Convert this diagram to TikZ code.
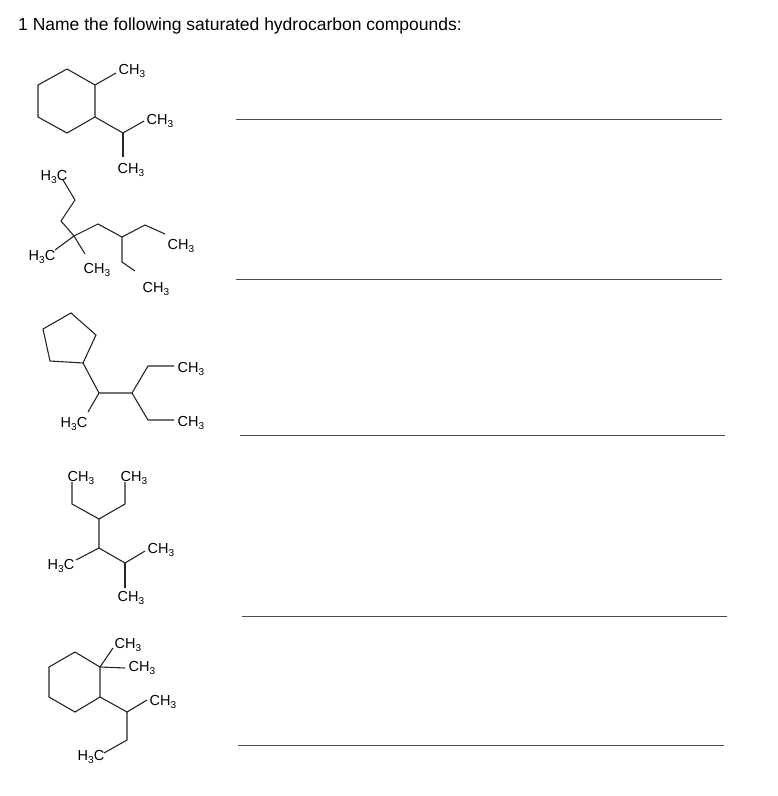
\documentclass[tikz,border=0pt]{standalone}
\usepackage{fontspec}
\setmainfont{Liberation Sans}
\newcommand{\tsub}[1]{\raisebox{-0.35ex}{\fontsize{10}{10}\selectfont #1}}
\newcommand{\CHt}{CH\tsub{3}}
\newcommand{\HtC}{H\tsub{3}C}
\begin{document}
\begin{tikzpicture}[x=1pt,y=-1pt,
  bond/.style={line width=1.1pt,black!85},
  ans/.style={line width=0.8pt,black!70},
  lab/.style={inner sep=0pt,font=\fontsize{14.5}{14.5}\selectfont}]
\useasboundingbox (0,0) rectangle (778,796);
\node[anchor=west,inner sep=0pt,font=\fontsize{17.5}{18}\selectfont] (title) at (18,26) {1 Name the following saturated hydrocarbon compounds:};
% answer lines
\coordinate (l1a) at (236,119); \coordinate (l1b) at (722,119);
\coordinate (l2a) at (236,279); \coordinate (l2b) at (722,279);
\coordinate (l3a) at (240,435); \coordinate (l3b) at (725,435);
\coordinate (l4a) at (242,616); \coordinate (l4b) at (727,616);
\coordinate (l5a) at (238,745); \coordinate (l5b) at (724,745);
\draw[ans] (l1a)--(l1b); \draw[ans] (l2a)--(l2b); \draw[ans] (l3a)--(l3b);
\draw[ans] (l4a)--(l4b); \draw[ans] (l5a)--(l5b);
% molecule 1
\coordinate (a1) at (67,69); \coordinate (a2) at (95,85); \coordinate (a3) at (95,117);
\coordinate (a4) at (67,133); \coordinate (a5) at (38,117); \coordinate (a6) at (38,85);
\draw[bond] (a1)--(a2)--(a3)--(a4)--(a5)--(a6)--cycle;
\coordinate (a7) at (116,73); \coordinate (a8) at (123,133); \coordinate (a9) at (144,121); \coordinate (a10) at (123,157);
\draw[bond] (a2)--(a7); \draw[bond] (a3)--(a8)--(a9); \draw[bond] (a8)--(a10);
\node[lab] (m1a) at (132,71) {\CHt};
\node[lab] (m1b) at (160,121) {\CHt};
\node[lab] (m1c) at (131,170) {\CHt};
% molecule 2
\coordinate (b1) at (63,180); \coordinate (b2) at (75,200); \coordinate (b3) at (61,221);
\coordinate (b4) at (74,236); \coordinate (b5) at (55,250); \coordinate (b6) at (85,254);
\coordinate (b7) at (98,224); \coordinate (b8) at (122,237); \coordinate (b9) at (145,225);
\coordinate (b10) at (165,234); \coordinate (b11) at (122,262); \coordinate (b12) at (135,271);
\draw[bond] (b1)--(b2)--(b3)--(b4)--(b7)--(b8)--(b9)--(b10);
\draw[bond] (b8)--(b11)--(b12); \draw[bond] (b4)--(b5); \draw[bond] (b4)--(b6);
\node[lab] (m2a) at (54,177) {\HtC};
\node[lab] (m2b) at (42,257) {\HtC};
\node[lab] (m2c) at (97,270) {\CHt};
\node[lab] (m2d) at (181,246) {\CHt};
\node[lab] (m2e) at (156,289) {\CHt};
% molecule 3
\coordinate (c1) at (71,313); \coordinate (c2) at (96,335); \coordinate (c3) at (83,363);
\coordinate (c4) at (50,361); \coordinate (c5) at (43,329);
\draw[bond] (c1)--(c2)--(c3)--(c4)--(c5)--cycle;
\coordinate (c6) at (99,393); \coordinate (c7) at (88,412); \coordinate (c8) at (132,393);
\coordinate (c9) at (148,366); \coordinate (c10) at (174,366); \coordinate (c11) at (148,420); \coordinate (c12) at (174,420);
\draw[bond] (c3)--(c6)--(c8)--(c9)--(c10); \draw[bond] (c6)--(c7); \draw[bond] (c8)--(c11)--(c12);
\node[lab] (m3a) at (74,424) {\HtC};
\node[lab] (m3b) at (191,369) {\CHt};
\node[lab] (m3c) at (191,423) {\CHt};
% molecule 4
\coordinate (d1) at (72,482); \coordinate (d2) at (72,504); \coordinate (d3) at (99,519);
\coordinate (d4) at (125,504); \coordinate (d5) at (125,482); \coordinate (d6) at (99,548);
\coordinate (d7) at (76,560); \coordinate (d8) at (125,563); \coordinate (d9) at (145,551); \coordinate (d10) at (125,588);
\draw[bond] (d1)--(d2)--(d3)--(d4)--(d5); \draw[bond] (d3)--(d6)--(d8)--(d9);
\draw[bond] (d6)--(d7); \draw[bond] (d8)--(d10);
\node[lab] (m4a) at (81,478) {\CHt};
\node[lab] (m4b) at (134,478) {\CHt};
\node[lab] (m4c) at (61,566) {\HtC};
\node[lab] (m4d) at (161,550) {\CHt};
\node[lab] (m4e) at (131,598) {\CHt};
% molecule 5
\coordinate (e1) at (75,652); \coordinate (e2) at (100,667); \coordinate (e3) at (100,697);
\coordinate (e4) at (75,712); \coordinate (e5) at (49,697); \coordinate (e6) at (49,667);
\draw[bond] (e1)--(e2)--(e3)--(e4)--(e5)--(e6)--cycle;
\coordinate (e7) at (113,648); \coordinate (e8) at (125,668); \coordinate (e9) at (127,712);
\coordinate (e10) at (147,700); \coordinate (e11) at (127,740); \coordinate (e12) at (104,753);
\draw[bond] (e2)--(e7); \draw[bond] (e2)--(e8); \draw[bond] (e3)--(e9)--(e10);
\draw[bond] (e9)--(e11)--(e12);
\node[lab] (m5a) at (128,645) {\CHt};
\node[lab] (m5b) at (142,668) {\CHt};
\node[lab] (m5c) at (163,702) {\CHt};
\node[lab] (m5d) at (91,757) {\HtC};
\end{tikzpicture}
\end{document}
